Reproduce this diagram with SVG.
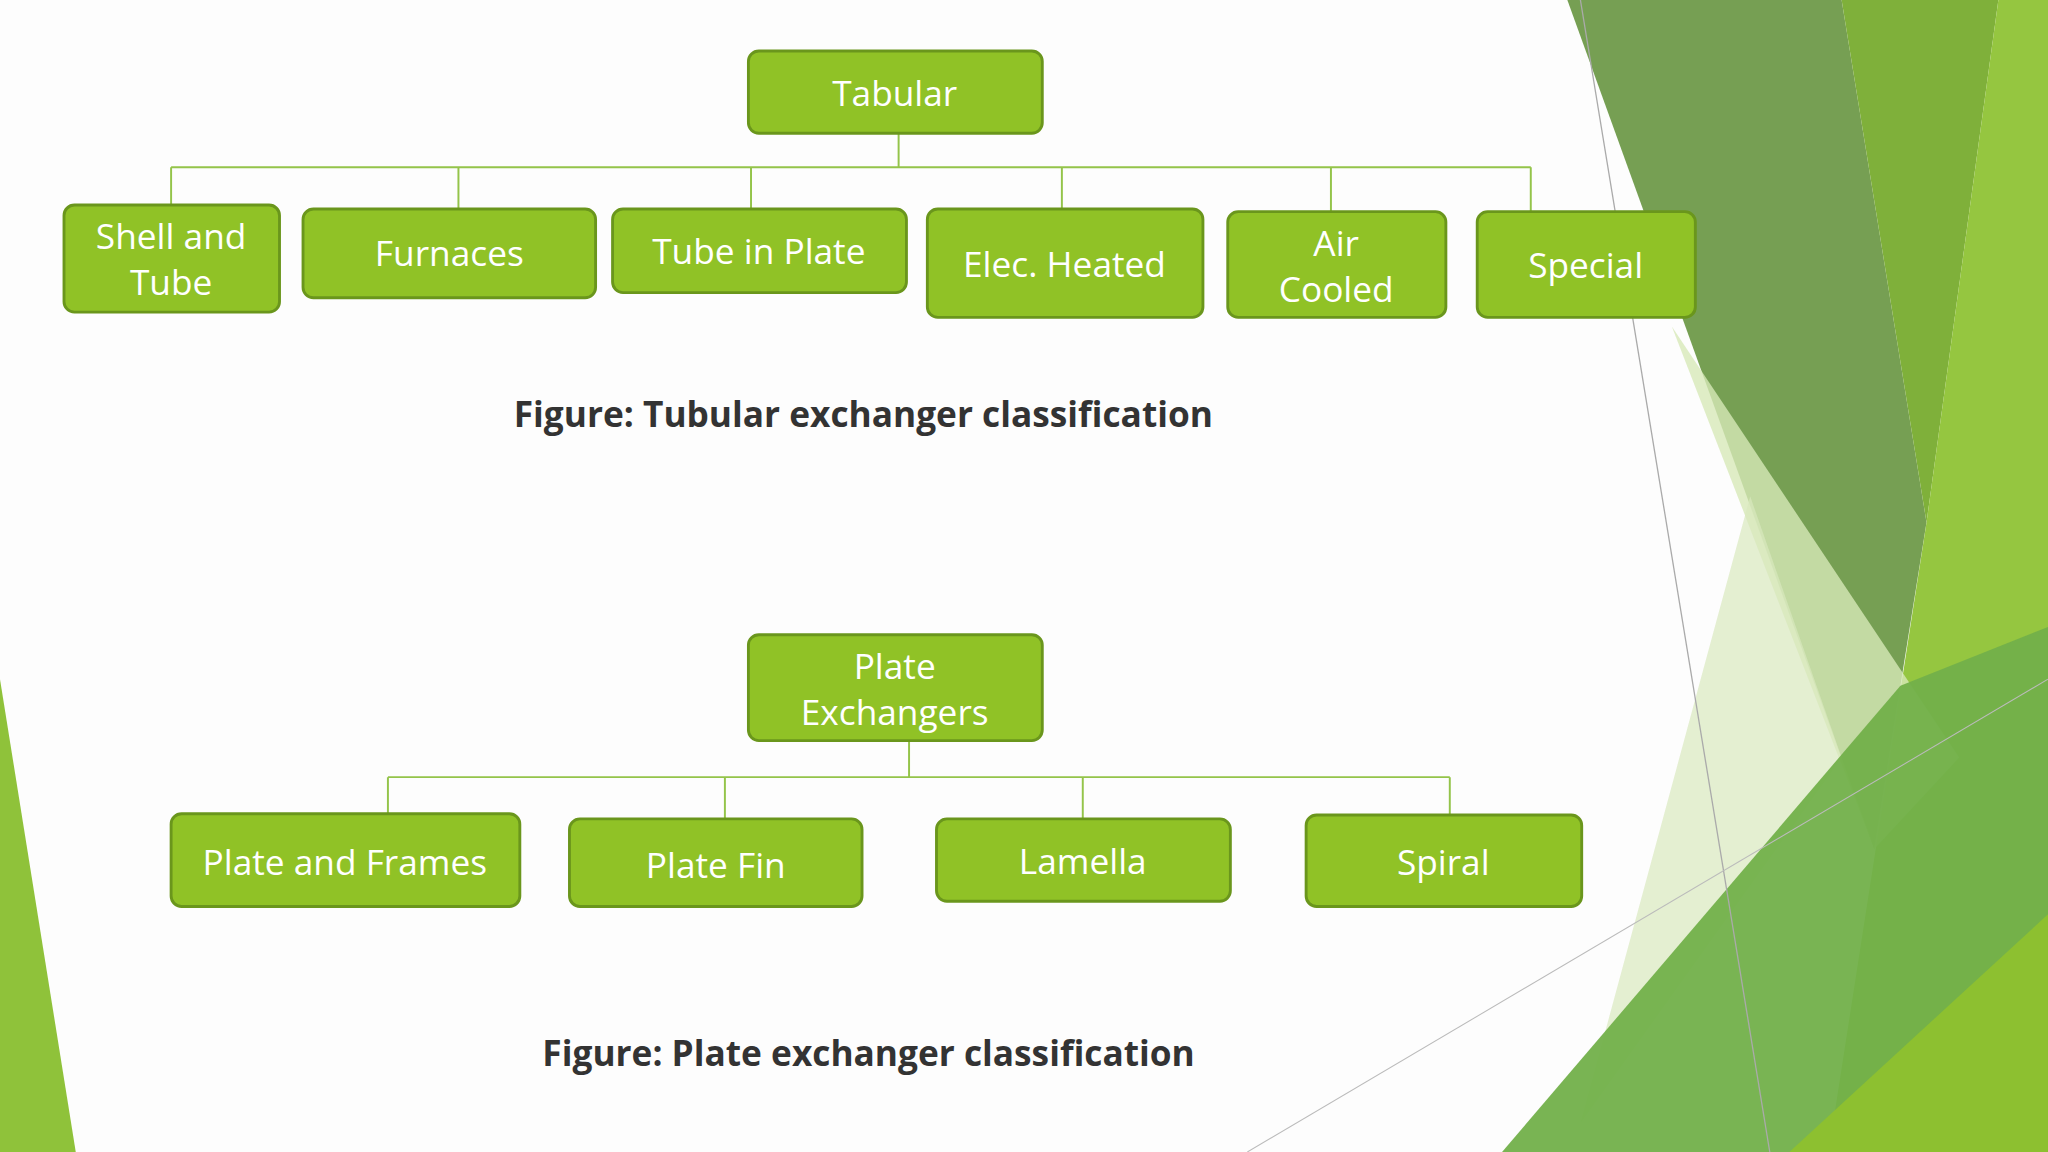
<svg xmlns="http://www.w3.org/2000/svg" width="2048" height="1152" viewBox="0 0 2048 1152">
<style>
.n rect{fill:#90c226;stroke:#6a961c;stroke-width:2.2}
.n text{fill:#fff;font-family:"Open Sans","DejaVu Sans",sans-serif;font-size:27px;text-anchor:middle}
.c{stroke:#94c44a;stroke-width:1.5;fill:none}
.cap{fill:#333;font-family:"Open Sans","DejaVu Sans",sans-serif;font-size:27px;font-weight:bold;text-anchor:middle}
</style>
<rect width="2048" height="1152" fill="#fdfdfd"/>
<g transform="scale(1.30612)">
<g id="background">
<polygon points="0,520 0,882 58,882" fill="#8fc23a"/>
<polygon points="1200,0 1410,0 1475,400 1435,650" fill="#6f9a4a" opacity="0.95"/>
<polygon points="1410,0 1530,0 1475,400" fill="#7fb03a"/>
<polygon points="1530,0 1568,0 1568,882 1400,882 1475,400" fill="#95c640"/>
<polygon points="1280,250 1435,650 1500,580" fill="#d7e8b8" opacity="0.8"/>
<polygon points="1210,860 1340,380 1410,580" fill="#d8e8bd" opacity="0.7"/>
<polygon points="1150,882 1455,525 1568,480 1568,882" fill="#72b04a" opacity="0.95"/>
<polygon points="1370,882 1568,700 1568,882" fill="#8dc030"/>
<line x1="1210" y1="0" x2="1355" y2="882" stroke="#aaa" stroke-width="1"/>
<line x1="955" y1="882" x2="1568" y2="520" stroke="#bbb" stroke-width="0.8"/>
</g>
<g id="connectors" class="c">
<path class="c" d="M688,102V128M131,128H1172M131,128V157M351,128V160M575,128V160M813,128V160M1019,128V162M1172,128V162"/>
<path class="c" d="M696,567V595M297,595H1110M297,595V623M555,595V627M829,595V627M1110,595V624"/>
</g>
<g id="tabular" class="n"><rect x="573" y="39" width="225" height="63" rx="8"/><text x="685" y="81">Tabular</text></g>
<g id="shell" class="n"><rect x="49" y="157" width="165" height="82" rx="8"/><text x="131" y="191">Shell and</text><text x="131" y="226">Tube</text></g>
<g id="furnaces" class="n"><rect x="232" y="160" width="224" height="68" rx="8"/><text x="344" y="204">Furnaces</text></g>
<g id="tubeplate" class="n"><rect x="469" y="160" width="225" height="64" rx="8"/><text x="581" y="202">Tube in Plate</text></g>
<g id="elec" class="n"><rect x="710" y="160" width="211" height="83" rx="8"/><text x="815" y="212">Elec. Heated</text></g>
<g id="air" class="n"><rect x="940" y="162" width="167" height="81" rx="8"/><text x="1023" y="196">Air</text><text x="1023" y="231">Cooled</text></g>
<g id="special" class="n"><rect x="1131" y="162" width="167" height="81" rx="8"/><text x="1214" y="213">Special</text></g>
<text class="cap" x="661" y="327">Figure: Tubular exchanger classification</text>
<g id="plate" class="n"><rect x="573" y="486" width="225" height="81" rx="8"/><text x="685" y="520">Plate</text><text x="685" y="555">Exchangers</text></g>
<g id="frames" class="n"><rect x="131" y="623" width="267" height="71" rx="8"/><text x="264" y="670">Plate and Frames</text></g>
<g id="fin" class="n"><rect x="436" y="627" width="224" height="67" rx="8"/><text x="548" y="672">Plate Fin</text></g>
<g id="lamella" class="n"><rect x="717" y="627" width="225" height="63" rx="8"/><text x="829" y="669">Lamella</text></g>
<g id="spiral" class="n"><rect x="1000" y="624" width="211" height="70" rx="8"/><text x="1105" y="670">Spiral</text></g>
<text class="cap" x="665" y="816">Figure: Plate exchanger classification</text>
</g>
</svg>
